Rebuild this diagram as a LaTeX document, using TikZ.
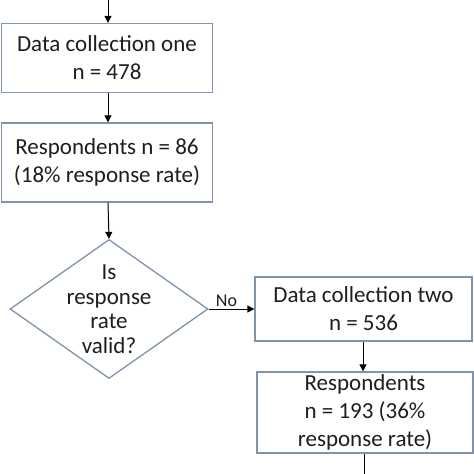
\documentclass[tikz,border=0pt]{standalone}
\usepackage{fontspec}
\setmainfont{Carlito}
\usetikzlibrary{arrows.meta,shapes.geometric}
\definecolor{boxline}{HTML}{8093AD}
\definecolor{txt}{HTML}{1E1E1E}
\begin{document}
\begin{tikzpicture}[x=1pt,y=-1pt,
  box/.style={draw=boxline,line width=1.3pt,fill=white,inner sep=0pt,
    font=\fontsize{23}{28}\selectfont,text=txt,align=center},
  arr/.style={-{Triangle[length=7pt,width=7pt]},line width=1pt,black},
  plain/.style={line width=1pt,black}]
\useasboundingbox (0,0) rectangle (474,474);
\fill[white] (0,0) rectangle (474,474);
\coordinate (top) at (108,0);
\node[box,minimum width=211pt,minimum height=69pt] (b1) at (107,58) {Data collection one\\n = 478};
\node[box,minimum width=211pt,minimum height=79pt] (b2) at (107,162.5) {Respondents n = 86\\(18\% response rate)};
\node[draw=boxline,line width=1.3pt,diamond,minimum width=198pt,minimum height=139pt,inner sep=0pt] (d) at (109,309) {};
\node[text=txt,align=center,font=\fontsize{23}{24.5}\selectfont] (dt) at (109,309) {Is\\response\\rate\\valid?};
\node[box,minimum width=217pt,minimum height=64pt] (b3) at (363.5,309) {Data collection two\\n = 536};
\node[box,minimum width=216pt,minimum height=81pt] (b4) at (365,412.5) {Respondents\\n = 193 (36\%\\response rate)};
\coordinate (bot) at (364,474);
\draw[arr] (top) -- (b1.north -| top);
\draw[arr] (b1.south -| top) -- (b2.north -| top);
\draw[arr] (b2.south -| top) -- (d.north);
\draw[arr] (d.east) -- node[above,font=\fontsize{18}{20}\selectfont,text=txt,xshift=-5pt,inner sep=2pt] (no) {No} (b3.west);
\draw[arr] (b3.south -| 363,0) -- (b4.north -| 363,0);
\draw[plain] (b4.south -| bot) -- (bot);
\end{tikzpicture}
\end{document}
